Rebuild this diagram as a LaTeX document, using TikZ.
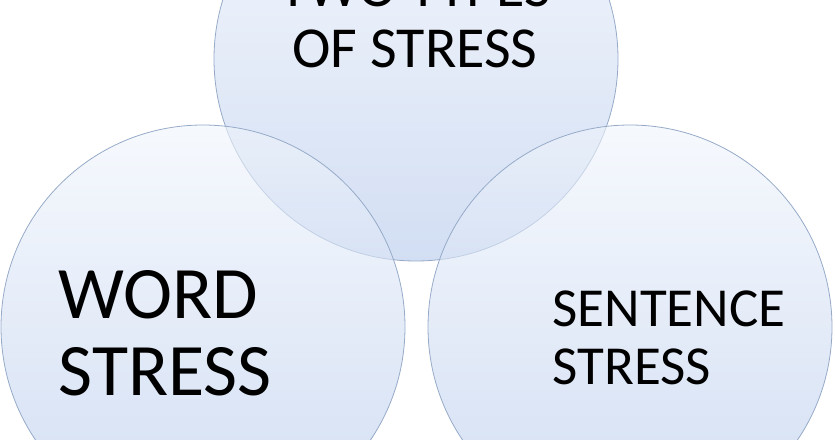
\documentclass[tikz,border=0pt]{standalone}
\usepackage{fontspec}
\setmainfont{Carlito}
\definecolor{rimc}{RGB}{150,170,200}
\definecolor{topc}{RGB}{240,245,252}
\definecolor{botc}{RGB}{180,200,235}
\begin{document}
\begin{tikzpicture}[x=1pt,y=-1pt,
  ring/.style={circle,draw=rimc,line width=0.8pt,minimum size=404pt,inner sep=0pt,
     top color=topc,bottom color=botc,fill opacity=0.6},
  lbl/.style={align=left,text=black,font=#1}]
\useasboundingbox (0,0) rectangle (835,439);
\node[ring] (top) at (416,59) {};
\node[ring] (left) at (203,327) {};
\node[ring] (right) at (630,327) {};
\node[lbl={\fontsize{58}{60}\selectfont},anchor=base] (t1) at (415,67) {OF STRESS};
\node[lbl={\fontsize{58}{60}\selectfont},anchor=base] (t0) at (415,6) {TWO TYPES};
\node[lbl={\fontsize{74}{75}\selectfont},anchor=base west] (w1) at (55,318) {WORD};
\node[lbl={\fontsize{74}{75}\selectfont},anchor=base west] (w2) at (55,395) {STRESS};
\node[lbl={\fontsize{55}{60}\selectfont},anchor=base west] (s1) at (549,326) {SENTENCE};
\node[lbl={\fontsize{55}{60}\selectfont},anchor=base west] (s2) at (549,384) {STRESS};
\end{tikzpicture}
\end{document}
